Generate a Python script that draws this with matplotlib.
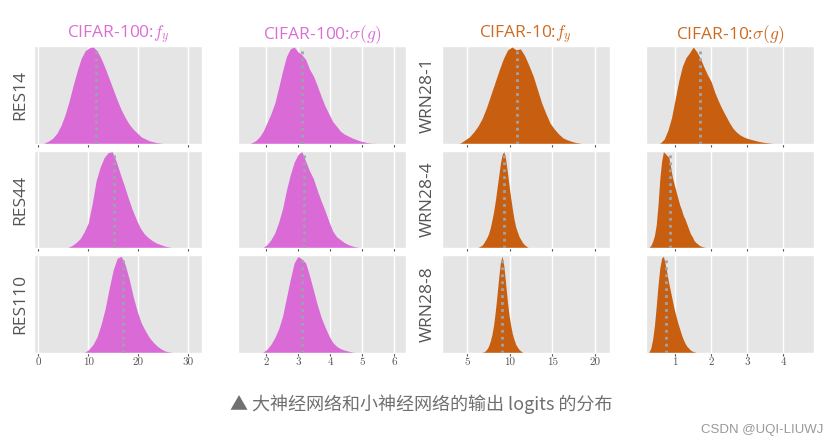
import numpy as np
import matplotlib
matplotlib.use("Agg")
import matplotlib.pyplot as plt

# row / column labels
models_c100 = ["RES14", "RES44", "RES110"]
models_c10 = ["WRN28-1", "WRN28-4", "WRN28-8"]
titles = ["CIFAR-100:$f_y$", "CIFAR-100:$\\sigma(g)$", "CIFAR-10:$f_y$", "CIFAR-10:$\\sigma(g)$"]

# histogram heights (percent of the tallest bin)
res14_fy = [1, 3, 6, 11, 19, 30, 44, 60, 75, 88, 96, 99, 100, 96, 88, 78, 67, 56, 45, 35,
            27, 20, 15, 11, 7, 5, 3, 2, 1, 0.5]
res44_fy = [1, 3, 6, 10, 17, 26, 46, 70, 84, 94, 99, 100, 90, 77, 65, 52, 40, 30, 21, 15,
            11, 8, 5.5, 4, 2.5, 1.5, 0.7]
res110_fy = [1, 4, 9, 17, 30, 46, 67, 86, 98, 100, 91, 76, 58, 43, 31, 23, 16, 11, 7, 4,
             2, 1, 0.4]
res14_sg = [1, 3, 7, 13, 22, 31, 42, 58, 75, 90, 98, 100, 95, 92, 87, 77, 70, 60, 49, 39,
            31, 23, 18, 13, 10, 8, 6, 4.5, 3, 2, 1, 0.5, 0.3]
res44_sg = [1, 4, 9, 16, 27, 41, 60, 76, 89, 97, 100, 90, 80, 72, 60, 49, 39, 28, 18, 12,
            9, 6, 4, 2.5, 1.5, 0.7, 0.3]
res110_sg = [1, 4, 9, 16, 25, 38, 57, 76, 93, 100, 97, 93, 80, 65, 50, 37, 27, 18, 11, 7,
             4.5, 3, 2, 1, 0.4]
wrn1_fy = [1, 4, 7, 12, 18, 26, 37, 50, 63, 76, 88, 97, 100, 97, 98, 91, 81, 70, 56, 42,
           31, 21, 15, 10, 6, 4, 2.5, 1.2, 0.5]
wrn4_fy = [0.5, 1, 2, 3, 5, 8, 11, 15, 21, 29, 38, 49, 62, 75, 88, 97, 100, 93, 80, 66,
           53, 41, 30, 22, 17, 12, 9, 6, 4, 2.5, 1.2, 0.5]
wrn8_fy = [0.5, 1, 2, 4, 7, 12, 19, 29, 43, 60, 78, 94, 100, 90, 73, 55, 40, 29, 20, 14,
           9, 6, 3.5, 2, 0.8]
wrn1_sg = [1, 5, 14, 27, 46, 65, 80, 89, 94, 100, 95, 88, 79, 71, 64, 53, 44, 36, 29, 22,
           16, 12, 9, 7, 5.5, 4.5, 3.5, 2.5, 1.8, 1.2, 0.7, 0.3]
wrn4_sg = [1, 3, 7, 13, 24, 45, 72, 90, 100, 98, 96, 94, 84, 73, 66, 59, 52, 45, 40, 34,
           30, 25, 20, 15, 12, 8, 6, 4.5, 3, 2.2, 1.5, 1, 0.5, 0.2]
wrn8_sg = [1, 5, 14, 28, 48, 70, 88, 98, 100, 92, 82, 72, 63, 54, 45, 38, 31, 25, 19, 14,
           10, 7, 5, 3, 2, 1.2, 0.6, 0.3]

heights = [[res14_fy, res44_fy, res110_fy],
           [res14_sg, res44_sg, res110_sg],
           [wrn1_fy, wrn4_fy, wrn8_fy],
           [wrn1_sg, wrn4_sg, wrn8_sg]]
# first bin edge and bin width for every panel (column-major)
bin_start = [[1.0, 5.6, 9.0], [1.5, 1.86, 1.86], [4.0, 6.0, 6.6], [0.55, 0.25, 0.25]]
bin_width = [[0.8, 0.8, 0.8], [0.12, 0.12, 0.12], [0.5, 0.2, 0.2], [0.1, 0.05, 0.05]]
# mean markers (dotted lines)
means = [[11.6, 15.2, 16.9], [3.11, 3.19, 3.13], [10.86, 9.38, 9.06], [1.70, 0.87, 0.74]]

xticks = [[0, 10, 20, 30], [2, 3, 4, 5, 6], [5, 10, 15, 20], [1, 2, 3, 4]]
xlims = [(-0.8, 32.8), (1.13, 6.37), (2.0, 21.8), (0.18, 4.85)]

pink = "#d96ad6"
orange = "#c85e10"
fill_colors = [pink, pink, orange, orange]
title_colors = ["#d96fd5", "#d96fd5", "#cf6a22", "#cf6a22"]

plt.style.use("ggplot")
plt.rcParams["mathtext.fontset"] = "cm"

fig, axes = plt.subplots(3, 4, figsize=(8.35, 4.46), dpi=100, sharex="col")
fig.patch.set_facecolor("white")
fig.subplots_adjust(left=0.0407, right=0.9749, top=0.8969, bottom=0.2085,
                    wspace=0.21, hspace=0.071)

for col in range(4):
    for row in range(3):
        ax = axes[row, col]
        h = np.array(heights[col][row]) / 100.0
        w = bin_width[col][row]
        centers = bin_start[col][row] + w * (np.arange(len(h)) + 0.5)
        x = np.concatenate([[centers[0] - w / 2], centers, [centers[-1] + w / 2]])
        y = np.concatenate([[0], h, [0]])
        ax.fill_between(x, 0, y, color=fill_colors[col], linewidth=0, zorder=2)
        ax.vlines(means[col][row], 0, 1.0, colors="#9ea4ab",
                  linestyles=(0, (1, 1.5)), linewidth=2.0, zorder=3)
        ax.set_ylim(0, 1.01)
        ax.set_yticks([])
        ax.set_xlim(*xlims[col])
        ax.set_xticks(xticks[col])
        ax.grid(axis="x", color="white", linewidth=1.0)
        ax.set_axisbelow(True)
        ax.tick_params(axis="x", length=2.5, pad=1, colors="#555555",
                       labelsize=8, labelfontfamily="cmr10")
    axes[0, col].set_title(titles[col], color=title_colors[col], fontsize=12.5,
                           family="Open Sans", pad=5)

for row in range(3):
    axes[row, 0].set_ylabel(models_c100[row], fontsize=12.5, color="#555555",
                            family="Open Sans", labelpad=4)
    axes[row, 2].set_ylabel(models_c10[row], fontsize=12.5, color="#555555",
                            family="Open Sans", labelpad=4)

fig.text(0.5048, 1 - 404 / 446, "▲ 大神经网络和小神经网络的输出 logits 的分布",
         ha="center", va="center", fontsize=13, color="#707070",
         family=["Noto Sans CJK SC", "DejaVu Sans"])
fig.text(823 / 835, 1 - 430 / 446, "CSDN @UQI-LIUWJ", ha="right", va="center",
         fontsize=9.5, color="#999999", family="Liberation Sans")

fig.savefig("out.png", dpi=100, facecolor="white")
